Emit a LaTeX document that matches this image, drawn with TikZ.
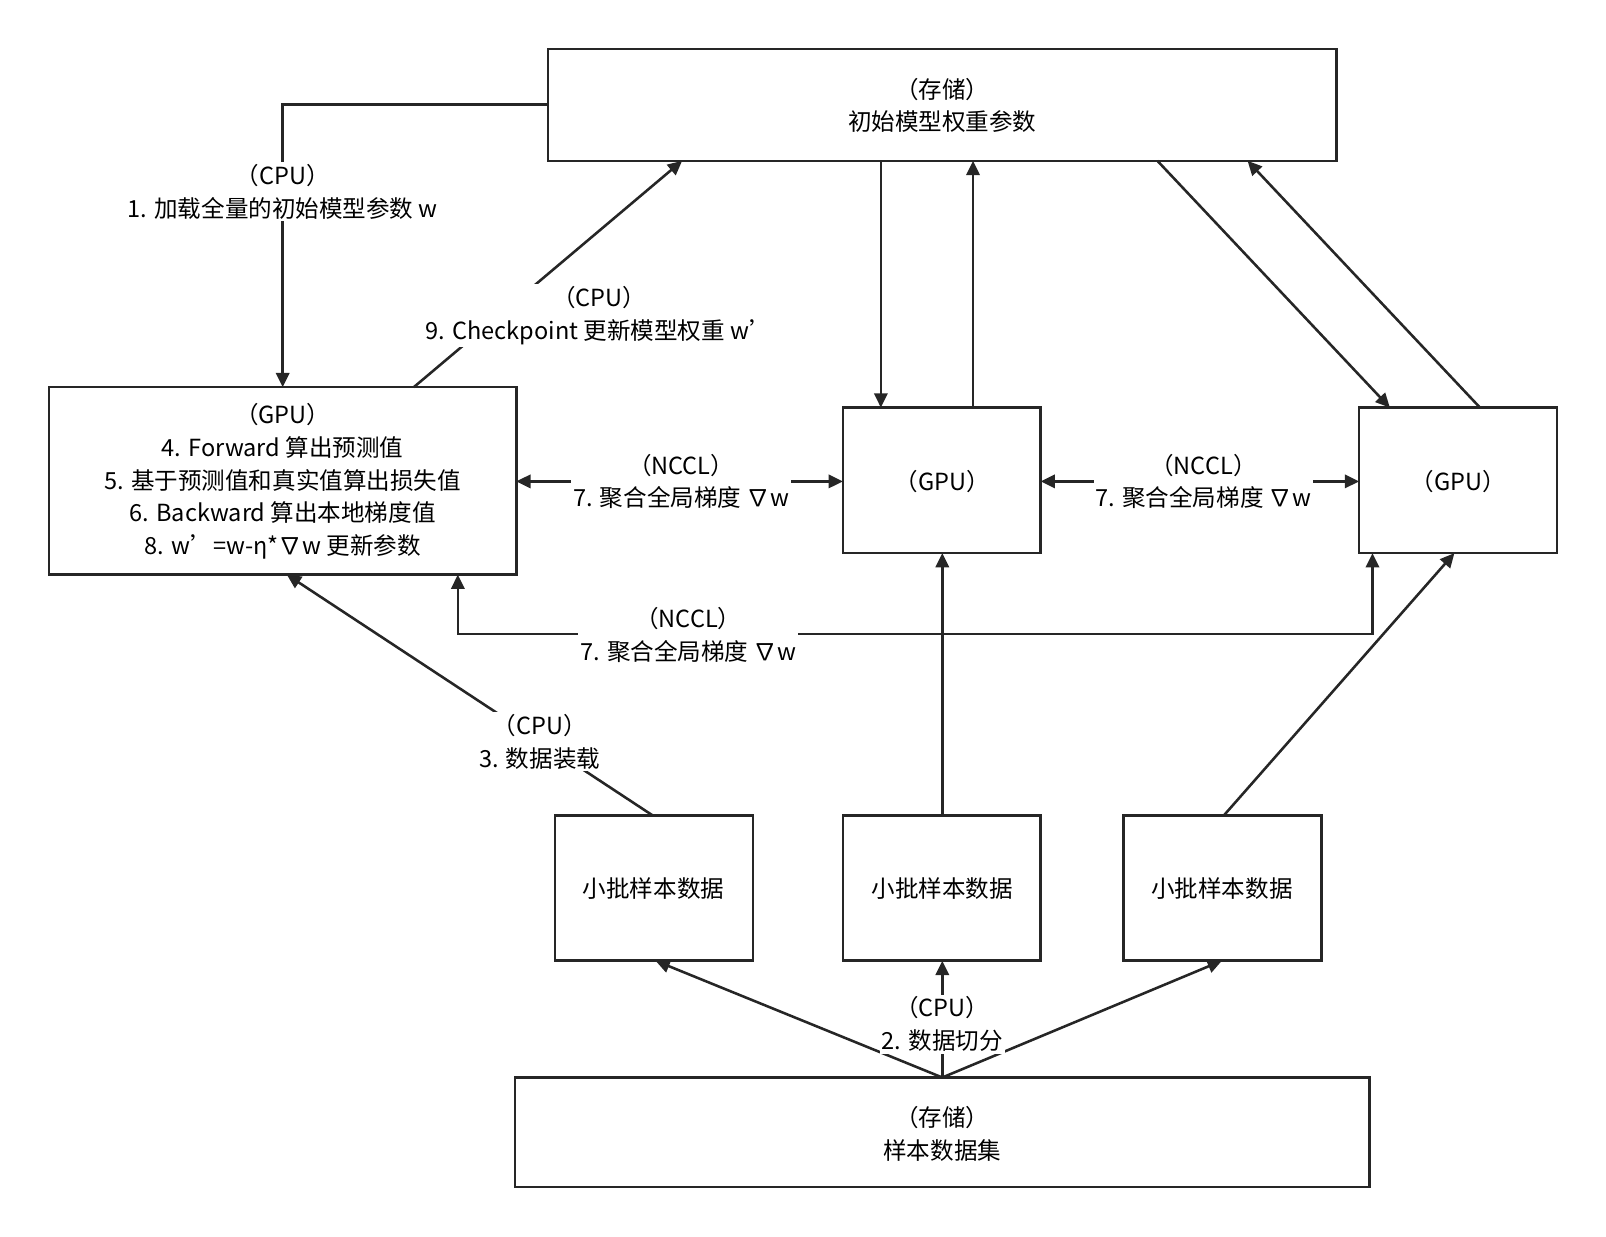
\documentclass[tikz,border=0pt]{standalone}
\usepackage{fontspec}
\setmainfont{Noto Sans CJK SC}[Ligatures=NoCommon]
\newcommand{\apos}{{\char"0027}}
\usetikzlibrary{arrows.meta}
\begin{document}
\begin{tikzpicture}[x=1pt,y=-1pt,
  box/.style={draw=black!85,line width=2.5pt,fill=white},
  con/.style={draw=black!85,line width=2.5pt,-{Triangle[length=14pt,width=13pt]}},
  lab/.style={fill=white,align=center,font=\fontsize{23}{32}\selectfont,inner sep=2pt},
  txt/.style={align=center,font=\fontsize{23}{32}\selectfont}]
\useasboundingbox (0,0) rectangle (1568,1207);
\draw[box] (535,48) rectangle (1305,157);
\node[txt] (top) at (920,103) {（存储）\\初始模型权重参数};
\draw[box] (48,378) rectangle (504,561);
\node[txt] (g1) at (276,470) {（GPU）\\4. Forward 算出预测值\\5. 基于预测值和真实值算出损失值\\6. Backward 算出本地梯度值\\8. w\apos=w-η*∇w 更新参数};
\draw[box] (823,398) rectangle (1016,540);
\node[txt] (g2) at (920,470) {（GPU）};
\draw[box] (1327,398) rectangle (1520,540);
\node[txt] (g3) at (1424,470) {（GPU）};
\draw[box] (542,796) rectangle (735,938);
\node[txt] (m1) at (638,868) {小批样本数据};
\draw[box] (823,796) rectangle (1016,938);
\node[txt] (m2) at (920,868) {小批样本数据};
\draw[box] (1097,796) rectangle (1290,938);
\node[txt] (m3) at (1193,868) {小批样本数据};
\draw[box] (503,1052) rectangle (1337,1159);
\node[txt] (bot) at (920,1107) {（存储）\\样本数据集};
\coordinate (tl) at (535,102);
\coordinate (c1) at (276,102);
\draw[con] (tl) -- (c1) -- (276,378);
\node[lab] (l1) at (276,187) {（CPU）\\1. 加载全量的初始模型参数 w};
\draw[con] (404,378) -- (666,157);
\node[lab] (l9) at (585,308) {（CPU）\\9. Checkpoint 更新模型权重 w\apos};
\draw[con] (860,157) -- (860,398);
\draw[con] (950,398) -- (950,157);
\draw[con] (1130,157) -- (1357,398);
\draw[con] (1445,398) -- (1218,157);
\draw[con,{Triangle[length=14pt,width=13pt]}-{Triangle[length=14pt,width=13pt]}] (504,470) -- (823,470);
\node[lab] (l7a) at (665,470) {（NCCL）\\7. 聚合全局梯度 ∇w};
\draw[con,{Triangle[length=14pt,width=13pt]}-{Triangle[length=14pt,width=13pt]}] (1016,470) -- (1327,470);
\node[lab] (l7b) at (1175,470) {（NCCL）\\7. 聚合全局梯度 ∇w};
\draw[con,{Triangle[length=14pt,width=13pt]}-{Triangle[length=14pt,width=13pt]}] (1340,540) -- (1340,619) -- (447,619) -- (447,561);
\node[lab] (l7c) at (672,620) {（NCCL）\\7. 聚合全局梯度 ∇w};
\draw[con] (637,796) -- (280,561);
\node[lab] (l3) at (527,724) {（CPU）\\3. 数据装载};
\draw[con] (920,796) -- (920,540);
\draw[con] (1195,796) -- (1420,540);
\draw[con] (920,1052) -- (640,938);
\draw[con] (920,1052) -- (920,938);
\draw[con] (920,1052) -- (1193,938);
\node[lab] (l2) at (920,1000) {（CPU）\\2. 数据切分};
\end{tikzpicture}
\end{document}
